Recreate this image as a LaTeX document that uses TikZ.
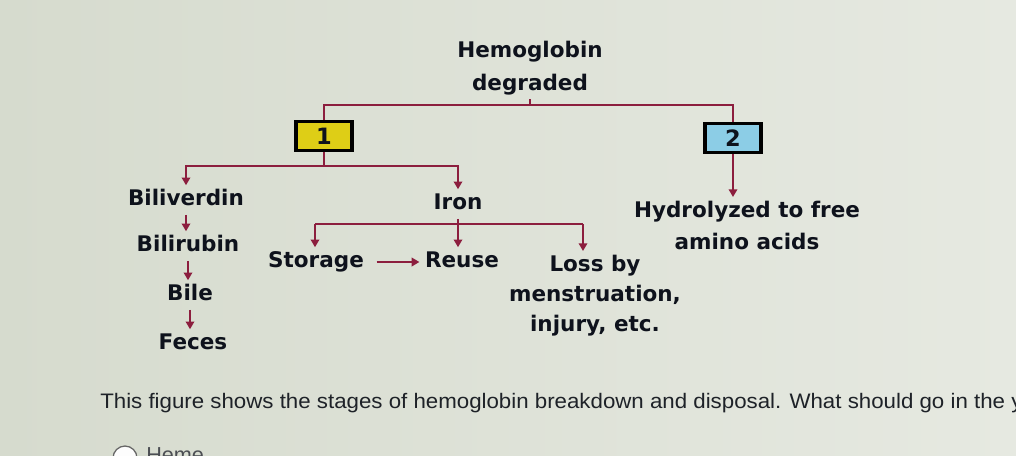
\documentclass[tikz,border=0pt]{standalone}
\usepackage{fontspec}
\setmainfont{DejaVu Sans}
\newfontfamily\qfont{Liberation Sans}
\usetikzlibrary{arrows.meta}
\definecolor{bgL}{RGB}{214,219,206}
\definecolor{bgR}{RGB}{230,233,225}
\definecolor{ln}{RGB}{140,30,62}
\definecolor{tx}{RGB}{14,18,28}
\definecolor{qtx}{RGB}{30,34,40}
\definecolor{yel}{RGB}{222,206,22}
\definecolor{blu}{RGB}{140,205,230}
\begin{document}
\begin{tikzpicture}[x=0.025cm,y=-0.025cm,
  lbl/.style={font=\bfseries\fontsize{15.3}{22}\selectfont, text=tx, inner sep=0pt, outer sep=3pt,
              text height=11.5pt, text depth=3.5pt},
  lblm/.style={font=\bfseries\fontsize{15.3}{#1}\selectfont, text=tx, inner sep=0pt, outer sep=3pt, align=center},
  conn/.style={draw=ln, line width=2pt},
  arr/.style={conn, -{Triangle[width=6pt,length=5.5pt]}},
  numbox/.style={draw=black, line width=2.2pt, minimum width=1.4cm, minimum height=0.73cm, inner sep=0pt,
                 font=\bfseries\fontsize{16}{18}\selectfont, text=tx}]
\clip (0,0) rectangle (1016,455);
\shade[left color=bgL, right color=bgR] (0,0) rectangle (1016,455);

% top
\node[lblm=23.4pt, anchor=north] (hb) at (530,37) {Hemoglobin\\degraded};
\node[numbox, fill=yel] (b1) at (324,136) {1};
\node[numbox, fill=blu] (b2) at (733,138) {2};
\coordinate (j0) at (532,105);
\draw[conn] (hb.south) -- (hb.south |- j0);
\draw[conn] (b1.north) -- (b1.north |- j0) -- (b2.north |- j0) -- (b2.north);

% branch 1
\node[lbl] (bv) at (186,200) {Biliverdin};
\node[lbl] (br) at (188,246) {Bilirubin};
\node[lbl] (bl) at (190,295) {Bile};
\node[lbl] (fc) at (193,344) {Feces};
\node[lbl] (ir) at (458,204) {Iron};
\coordinate (j1) at (324,166);
\draw[conn] (b1.south) -- (b1.south |- j1);
\draw[arr] (b1.south |- j1) -| (bv.north);
\draw[arr] (b1.south |- j1) -| (ir.north);
\draw[arr] (bv.south) -- (bv.south |- br.north);
\draw[arr] (br.south) -- (br.south |- bl.north);
\draw[arr] (bl.south) -- (bl.south |- fc.north);

% iron branch
\node[lbl] (st) at (316,262) {Storage};
\node[lbl] (ru) at (462,262) {Reuse};
\node[lblm=21.3pt, anchor=north] (ls) at (595,251) {Loss by\\menstruation,\\injury, etc.};
\coordinate (ijL) at (315,224);
\coordinate (ijR) at (583,224);
\draw[conn] (ir.south) -- (ir.south |- ijL);
\draw[conn] (ijL) -- (ijR);
\draw[arr] (ijL) -- (ijL |- st.north);
\draw[arr] (ir.south |- ijL) -- (ir.south |- ru.north);
\draw[arr] (ijR) -- (ijR |- ls.north);
\draw[arr, outer sep=0pt] ([xshift=6pt]st.east) -- ([xshift=-1pt]ru.west);

% branch 2
\node[lblm=22.7pt, anchor=north] (hy) at (747,197) {Hydrolyzed to free\\amino acids};
\draw[arr] (b2.south) -- (b2.south |- hy.north);

% question
\node[anchor=base west, inner sep=0pt, text=qtx] (q) at (100,408)
  {\resizebox{23.05cm}{0.38cm}{\qfont This figure shows the stages of hemoglobin breakdown and disposal. What should go in the y}};
\draw[gray!80!black, line width=0.9pt, fill=white!92!bgR] (125,458) circle (12) coordinate (rb);
\node[anchor=base west, inner sep=0pt, text=qtx!80, font=\qfont\fontsize{15.4}{18}\selectfont] (heme) at (146,462) {Heme};
\end{tikzpicture}
\end{document}
